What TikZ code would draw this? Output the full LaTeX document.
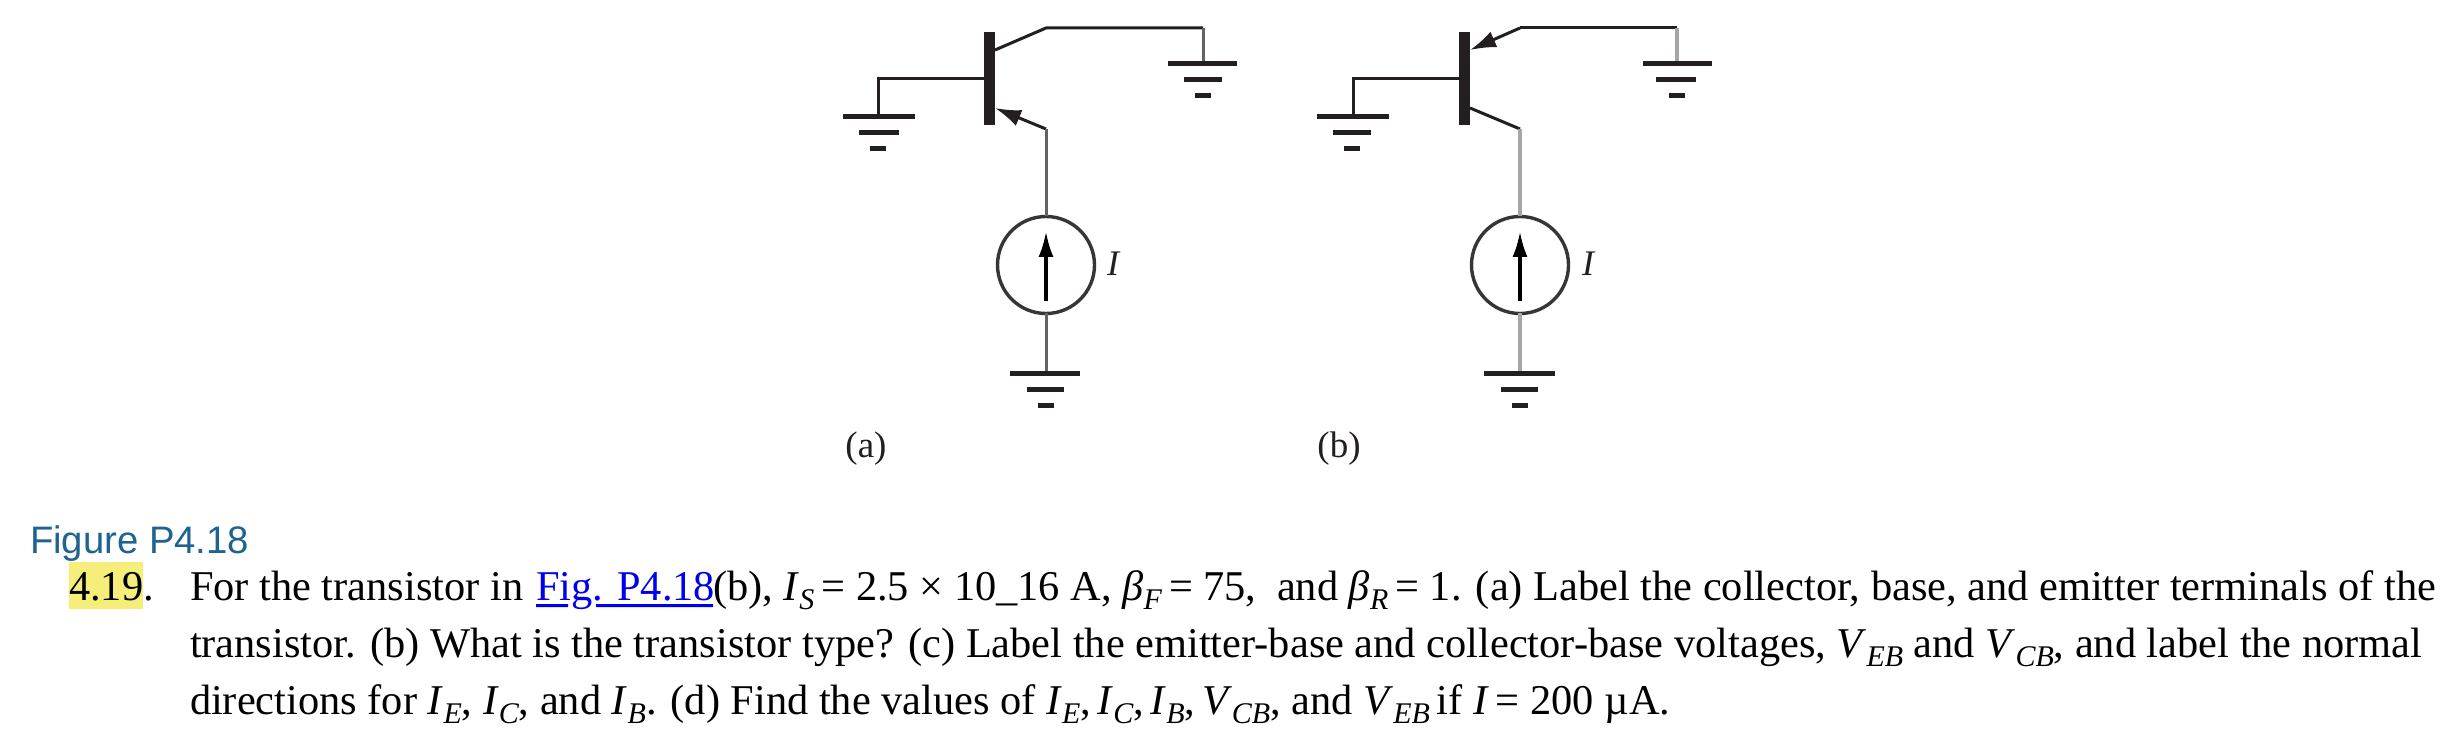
\documentclass[tikz,border=0pt]{standalone}
\usepackage{fontspec}
\setmainfont{Liberation Serif}
\newfontfamily\capfont{Liberation Sans}
\usetikzlibrary{arrows.meta}
\definecolor{ink}{HTML}{231F20}
\definecolor{capblue}{HTML}{1F6391}
\definecolor{hilite}{HTML}{F5EE7A}
\definecolor{linkblue}{HTML}{0000EE}
\newcommand{\sbs}[1]{\raisebox{-9pt}{\fontsize{30}{30}\selectfont\itshape #1}}
\tikzset{
  every node/.style={inner sep=0pt,outer sep=0pt},
  wire/.style={draw=ink,line width=3pt,line join=miter},
  softwire/.style={draw=ink!70,line width=3pt,line join=miter},
  palewire/.style={draw=ink!40,line width=3.6pt,line join=miter},
  gndbar/.style={draw=ink,line width=5pt},
  basebar/.style={fill=ink,draw=none},
  src/.style={circle,draw=ink!90,line width=3.4pt,minimum size=97pt},
  srcarrow/.style={draw=black,line width=3.6pt,-{Latex[length=26pt,width=15pt]}},
  emarrow/.style={-{Latex[length=26pt,width=17pt,color=ink]}},
  partlabel/.style={font=\fontsize{37}{37}\selectfont,text=ink},
  ilabel/.style={font=\fontsize{36}{36}\selectfont\itshape,text=ink},
  captxt/.style={anchor=base west,font=\capfont\fontsize{38.3}{38.3}\selectfont,text=capblue},
  body/.style={anchor=base west,font=\fontsize{42.4}{42.4}\selectfont,text=black},
  linktxt/.style={anchor=base west,font=\fontsize{42.4}{42.4}\selectfont,text=linkblue},
}
\begin{document}
\begin{tikzpicture}[x=1pt,y=-1pt]
\useasboundingbox (0,0) rectangle (2460,751);
\fill[white] (0,0) rectangle (2460,751);

% ---- circuit (a)
\fill[basebar] (984,32) rectangle (995,125);
\coordinate (ab) at (984,79);
\coordinate (abk) at (878,79);
\coordinate (ag1) at (878,117);
\coordinate (ac) at (995,50);
\coordinate (ack) at (1046,28);
\coordinate (acr) at (1203,28);
\coordinate (ag2) at (1203,64);
\coordinate (ae) at (995,108);
\coordinate (aek) at (1046,129);
\node[src] (asrc) at (1046,265) {};
\coordinate (ag3) at (1046,373);
\draw[wire] (ab) -- (abk) -- (ag1);
\draw[wire] (ac) -- (ack) -- (acr);
\draw[softwire] (acr) -- (ag2);
\draw[wire,emarrow] (aek) -- (ae);
\draw[softwire] (asrc.north) -- (aek);
\draw[softwire] (asrc.south) -- (ag3);
\draw[srcarrow] (1046,301) -- (1046,231);
\draw[gndbar] (843,117) -- (915,117) (859,133) -- (899,133) (870,149) -- (886,149);
\draw[gndbar] (1168,64) -- (1237,64) (1184,80) -- (1222,80) (1195,96) -- (1211,96);
\draw[gndbar] (1010,373) -- (1080,373) (1027,389) -- (1064,389) (1038,405) -- (1054,405);
\node[ilabel] (ai) at (1113,264) {I};
\node[partlabel] (alab) at (866,449) {(a)};

% ---- circuit (b)
\fill[basebar] (1459,32) rectangle (1470,125);
\coordinate (bb) at (1459,79);
\coordinate (bbk) at (1353,79);
\coordinate (bg1) at (1353,117);
\coordinate (be) at (1470,50);
\coordinate (bek) at (1520,28);
\coordinate (ber) at (1677,28);
\coordinate (bg2) at (1677,64);
\coordinate (bc) at (1470,108);
\coordinate (bck) at (1520,129);
\node[src] (bsrc) at (1520,265) {};
\coordinate (bg3) at (1520,373);
\draw[wire] (bb) -- (bbk) -- (bg1);
\draw[wire] (ber) -- (bek);
\draw[wire,emarrow] (bek) -- (be);
\draw[palewire] (ber) -- (bg2);
\draw[wire] (bc) -- (bck);
\draw[palewire] (bsrc.north) -- (bck);
\draw[palewire] (bsrc.south) -- (bg3);
\draw[srcarrow] (1520,301) -- (1520,231);
\draw[gndbar] (1317,117) -- (1389,117) (1333,133) -- (1371,133) (1344,149) -- (1360,149);
\draw[gndbar] (1643,64) -- (1712,64) (1656,80) -- (1696,80) (1669,96) -- (1685,96);
\draw[gndbar] (1484,373) -- (1555,373) (1501,389) -- (1538,389) (1512,405) -- (1528,405);
\node[ilabel] (bi) at (1588,264) {I};
\node[partlabel] (blab) at (1339,449) {(b)};

% ---- text
\node[captxt] (cap) at (30,553.5) {Figure P4.18};
\fill[hilite] (69,562) rectangle (143,609);
\node[body] (num) at (69,600.5) {4.19.};
\node[body] (l1a) at (190,600.5) {For the transistor in};
\node[linktxt] (link) at (536,600.5) {Fig. P4.18};
\fill[linkblue] (536,604) rectangle (568,607) (596,604) rectangle (713,607);
\node[body] (l1b) at (713,600.5) {(b), \textit{I}\sbs{S}\,= 2.5 × 10\_16 A, \textit{β}\sbs{F}\,= 75,\kern10pt{} and \textit{β}\sbs{R}\,= 1. (a) Label the collector, base, and emitter terminals of the};
\node[body] (l2) at (190,657.5) {transistor. (b) What is the transistor type? (c) Label the emitter-base and collector-base voltages, \textit{V}\sbs{EB} and \textit{V}\sbs{CB}, and label the normal};
\node[body] (l3) at (190,714.5) {directions for \textit{I}\sbs{E}, \textit{I}\sbs{C}, and \textit{I}\sbs{B}. (d) Find the values of \textit{I}\sbs{E},\kern-4pt{} \textit{I}\sbs{C},\kern-4pt{} \textit{I}\sbs{B},\kern-4pt{} \textit{V}\sbs{CB}, and \textit{V}\sbs{EB}\kern-4pt{} if \textit{I}\,= 200 µA.};
\end{tikzpicture}
\end{document}
